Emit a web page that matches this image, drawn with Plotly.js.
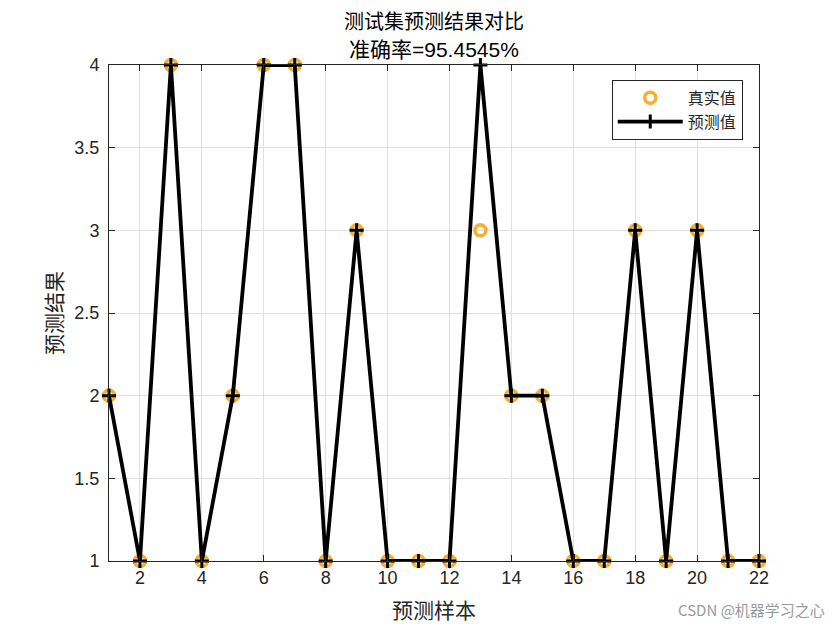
<!DOCTYPE html>
<html>
<head>
<meta charset="utf-8">
<script src="https://cdn.plot.ly/plotly-3.0.1.min.js"></script>
<style>
  body { margin: 0; background: #fff; }
  #myDiv { width: 840px; height: 630px; }
</style>
</head>
<body>
<div id="myDiv"></div>
<script>
// 预测样本编号
const muestras = [1, 2, 3, 4, 5, 6, 7, 8, 9, 10, 11, 12, 13, 14, 15, 16, 17, 18, 19, 20, 21, 22];
// 真实值 / 预测值
const realValues = [2, 1, 4, 1, 2, 4, 4, 1, 3, 1, 1, 1, 3, 2, 2, 1, 1, 3, 1, 3, 1, 1];
const predValues = [2, 1, 4, 1, 2, 4, 4, 1, 3, 1, 1, 1, 4, 2, 2, 1, 1, 3, 1, 3, 1, 1];
const xTicks = [2, 4, 6, 8, 10, 12, 14, 16, 18, 20, 22];
const yTicks = [1, 1.5, 2, 2.5, 3, 3.5, 4];
const accuracy = "95.4545%";

const cjk = "'Noto Sans CJK SC', sans-serif";
const latin = "'Liberation Sans', Arial, sans-serif";

const real = {
  x: muestras,
  y: realValues,
  type: "scatter",
  mode: "markers",
  name: "真实值",
  cliponaxis: false,
  marker: {
    symbol: "circle-open",
    size: 11,
    color: "#F6AE35",
    line: { width: 3.6, color: "#F6AE35" }
  }
};

const pred = {
  x: muestras,
  y: predValues,
  type: "scatter",
  mode: "lines+markers",
  name: "预测值",
  cliponaxis: false,
  line: { color: "#000", width: 3.8 },
  marker: {
    symbol: "cross-thin",
    size: 10,
    color: "#000",
    line: { width: 3, color: "#000" }
  }
};

const axisBase = {
  showline: true,
  mirror: "ticks",
  linecolor: "#262626",
  linewidth: 1,
  ticks: "inside",
  ticklen: 6,
  tickcolor: "#262626",
  showgrid: true,
  gridcolor: "#e0e0e0",
  gridwidth: 1,
  zeroline: false,
  tickfont: { family: latin, size: 18, color: "#262626" }
};

const layout = {
  width: 840,
  height: 630,
  paper_bgcolor: "#fff",
  plot_bgcolor: "#fff",
  margin: { l: 109, r: 81, t: 65, b: 69 },
  showlegend: true,
  legend: {
    x: 0.975, xanchor: "right",
    y: 0.97, yanchor: "top",
    bgcolor: "#fff",
    bordercolor: "#262626",
    borderwidth: 1,
    font: { family: cjk, size: 16, color: "#262626" },
    tracegroupgap: 0,
    itemwidth: 65
  },
  xaxis: Object.assign({}, axisBase, {
    range: [1, 22],
    tickvals: xTicks,
    title: { text: "预测样本", font: { family: cjk, size: 21, color: "#262626" }, standoff: 16 }
  }),
  yaxis: Object.assign({}, axisBase, {
    range: [1, 4],
    tickvals: yTicks,
    ticktext: yTicks.map(String),
    ticklabelstandoff: 5,
    title: { text: "预测结果", font: { family: cjk, size: 21, color: "#262626" }, standoff: 6 }
  }),
  annotations: [
    {
      xref: "paper", yref: "paper", x: 0.5, y: 1, yshift: 45,
      text: "测试集预测结果对比", showarrow: false, yanchor: "middle",
      font: { family: cjk, size: 20, color: "#000" }
    },
    {
      xref: "paper", yref: "paper", x: 0.5, y: 1, yshift: 16,
      text: "准确率=" + accuracy, showarrow: false, yanchor: "middle",
      font: { family: latin + ", 'Noto Sans CJK SC'", size: 21, color: "#000" }
    },
    {
      xref: "paper", yref: "paper", x: 1, y: 0, xshift: 68, yshift: -48,
      xanchor: "right", yanchor: "middle",
      text: "CSDN @机器学习之心", showarrow: false,
      font: { family: cjk, size: 15, color: "#9a9a9a" }
    }
  ]
};

Plotly.newPlot("myDiv", [real, pred], layout, { displayModeBar: false, staticPlot: true });
</script>
</body>
</html>
